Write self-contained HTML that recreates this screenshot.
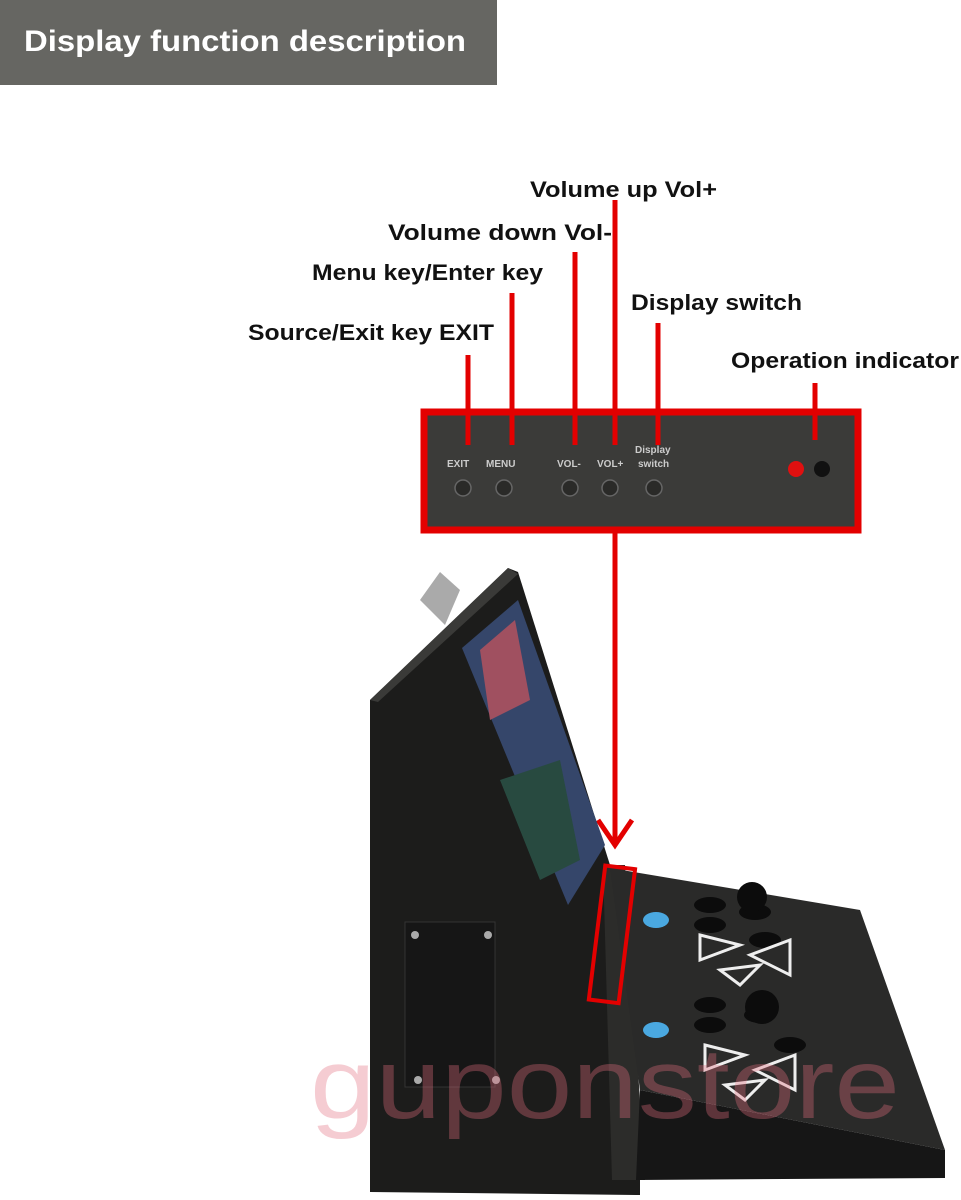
<!DOCTYPE html>
<html><head><meta charset="utf-8"><style>
html,body{margin:0;padding:0;background:#fff;}
svg{display:block;}
text{font-family:"Liberation Sans",sans-serif;font-weight:bold;}
</style></head><body>
<svg width="961" height="1200" viewBox="0 0 961 1200" xmlns="http://www.w3.org/2000/svg">
<rect x="0" y="0" width="497" height="85" fill="#666662"/>
<text x="24" y="51" font-size="30" fill="#fff" textLength="442" lengthAdjust="spacingAndGlyphs">Display function description</text>

<g font-size="22" fill="#111">
<text x="530" y="197" textLength="187" lengthAdjust="spacingAndGlyphs">Volume up Vol+</text>
<text x="388" y="240" textLength="224" lengthAdjust="spacingAndGlyphs">Volume down Vol-</text>
<text x="312" y="280" textLength="231" lengthAdjust="spacingAndGlyphs">Menu key/Enter key</text>
<text x="631" y="310" textLength="171" lengthAdjust="spacingAndGlyphs">Display switch</text>
<text x="248" y="340" textLength="246" lengthAdjust="spacingAndGlyphs">Source/Exit key EXIT</text>
<text x="731" y="368" textLength="228" lengthAdjust="spacingAndGlyphs">Operation indicator</text>
</g>

<rect x="424" y="412" width="434" height="118" fill="#3b3b39" stroke="#e30000" stroke-width="7"/>
<g fill="#ccc" font-size="10">
<text x="447" y="467">EXIT</text><text x="486" y="467">MENU</text>
<text x="557" y="467">VOL-</text><text x="597" y="467">VOL+</text>
<text x="635" y="453">Display</text><text x="638" y="467">switch</text>
</g>
<g fill="#2a2a28" stroke="#666" stroke-width="1.5">
<circle cx="463" cy="488" r="8"/><circle cx="504" cy="488" r="8"/><circle cx="570" cy="488" r="8"/><circle cx="610" cy="488" r="8"/><circle cx="654" cy="488" r="8"/>
</g>
<circle cx="796" cy="469" r="8" fill="#e01010"/>
<circle cx="822" cy="469" r="8" fill="#111"/>

<g stroke="#e30000" stroke-width="5">
<line x1="468" y1="355" x2="468" y2="445"/>
<line x1="512" y1="293" x2="512" y2="445"/>
<line x1="575" y1="252" x2="575" y2="445"/>
<line x1="615" y1="200" x2="615" y2="445"/>
<line x1="658" y1="323" x2="658" y2="445"/>
<line x1="815" y1="383" x2="815" y2="440"/>
<line x1="615" y1="533" x2="615" y2="842"/>
</g>
<polyline points="598,820 615,845 632,820" fill="none" stroke="#e30000" stroke-width="5"/>

<polygon points="370,700 370,1192 640,1195 640,1160 610,865 518,572 508,568" fill="#1c1c1b"/>
<polygon points="370,700 508,568 518,574 378,702" fill="#3a3a38"/>
<polygon points="420,600 440,572 460,590 445,625" fill="#aaa"/>
<polygon points="462,648 518,600 605,845 568,905" fill="#35466a"/>
<polygon points="480,650 515,620 530,700 490,720" fill="#a05060"/>
<polygon points="500,780 560,760 580,860 540,880" fill="#284a40"/>
<rect x="405" y="922" width="90" height="165" fill="#161616" stroke="#333"/>
<g fill="#aaa"><circle cx="415" cy="935" r="4"/><circle cx="488" cy="935" r="4"/><circle cx="418" cy="1080" r="4"/><circle cx="496" cy="1080" r="4"/></g>
<polygon points="603,865 625,865 645,1180 612,1180" fill="#2c2c2a"/>
<polygon points="610,868 860,910 945,1150 640,1090" fill="#2a2a29"/>
<polygon points="640,1090 945,1150 945,1178 636,1180" fill="#161616"/>
<g fill="#0c0c0c">
<ellipse cx="710" cy="905" rx="16" ry="8"/><ellipse cx="755" cy="912" rx="16" ry="8"/><ellipse cx="765" cy="940" rx="16" ry="8"/><ellipse cx="710" cy="925" rx="16" ry="8"/>
<ellipse cx="710" cy="1005" rx="16" ry="8"/><ellipse cx="760" cy="1015" rx="16" ry="8"/><ellipse cx="790" cy="1045" rx="16" ry="8"/><ellipse cx="710" cy="1025" rx="16" ry="8"/>
<circle cx="752" cy="897" r="15"/><circle cx="762" cy="1007" r="17"/>
</g>
<ellipse cx="656" cy="920" rx="13" ry="8" fill="#4aa8e0"/>
<ellipse cx="656" cy="1030" rx="13" ry="8" fill="#4aa8e0"/>
<g fill="none" stroke="#eee" stroke-width="3">
<polygon points="700,935 740,945 700,960"/><polygon points="790,940 750,955 790,975"/><polygon points="720,970 760,965 740,985"/>
<polygon points="705,1045 745,1055 705,1070"/><polygon points="795,1055 755,1070 795,1090"/><polygon points="725,1085 765,1080 745,1100"/>
</g>
<rect x="597" y="867" width="30" height="135" fill="none" stroke="#e30000" stroke-width="4" transform="rotate(7 613 934)"/>

<text x="310" y="1118" font-size="100" fill="rgba(225,110,125,0.35)" textLength="590" lengthAdjust="spacingAndGlyphs" style="font-weight:normal">guponstore</text>
</svg>
</body></html>
